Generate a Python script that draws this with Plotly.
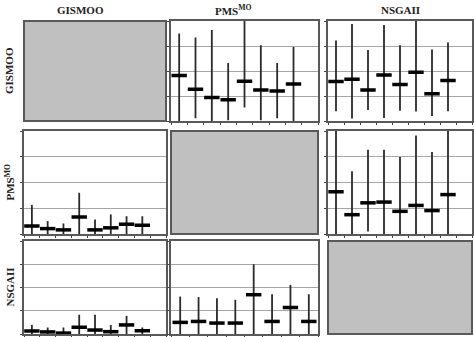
import plotly.graph_objects as go

W, H = 474, 337

algorithms = ["GISMOO", "PMS<sup>MO</sup>", "NSGAII"]
instances = [1, 2, 3, 4, 5, 6, 7, 8]

# row GISMOO, column PMS^MO
r1c2_min = [0.00, 0.11, 0.00, 0.03, 0.54, 0.03, 0.11, 0.00]
r1c2_med = [1.82, 1.27, 0.94, 0.85, 1.59, 1.24, 1.20, 1.48]
r1c2_max = [3.50, 3.34, 3.64, 2.32, 4.00, 3.03, 2.32, 2.96]
# row GISMOO, column NSGAII
r1c3_min = [0.39, 0.10, 0.44, 0.12, 0.41, 0.38, 0.20, 0.39]
r1c3_med = [1.58, 1.67, 1.24, 1.84, 1.46, 1.95, 1.09, 1.62]
r1c3_max = [3.22, 3.88, 2.84, 3.84, 3.03, 4.00, 2.86, 3.14]
# row PMS^MO, column GISMOO
r2c1_min = [0.00, 0.00, 0.00, 0.00, 0.00, 0.00, 0.00, 0.00]
r2c1_med = [0.31, 0.21, 0.16, 0.66, 0.16, 0.24, 0.38, 0.34]
r2c1_max = [1.13, 0.50, 0.41, 1.60, 0.56, 0.76, 0.69, 0.69]
# row PMS^MO, column NSGAII
r2c3_min = [0.00, 0.00, 0.10, 0.00, 0.00, 0.00, 0.00, 0.00]
r2c3_med = [1.64, 0.75, 1.21, 1.24, 0.88, 1.11, 0.91, 1.53]
r2c3_max = [4.00, 2.44, 3.27, 3.27, 2.99, 3.83, 3.18, 4.00]
# row NSGAII, column GISMOO
r3c1_min = [0.00, 0.00, 0.00, 0.00, 0.00, 0.00, 0.00, 0.00]
r3c1_med = [0.13, 0.09, 0.04, 0.29, 0.17, 0.10, 0.39, 0.14]
r3c1_max = [0.39, 0.28, 0.28, 0.83, 0.83, 0.39, 0.78, 0.28]
# row NSGAII, column PMS^MO
r3c2_min = [0.00, 0.00, 0.00, 0.00, 0.00, 0.00, 0.00, 0.00]
r3c2_med = [0.50, 0.54, 0.47, 0.47, 1.69, 0.54, 1.14, 0.54]
r3c2_max = [1.61, 1.59, 1.54, 1.47, 3.00, 1.71, 2.11, 1.71]

panels = {
    (0, 1): (r1c2_min, r1c2_med, r1c2_max, 9),
    (0, 2): (r1c3_min, r1c3_med, r1c3_max, 9),
    (1, 0): (r2c1_min, r2c1_med, r2c1_max, 9),
    (1, 2): (r2c3_min, r2c3_med, r2c3_max, 9),
    (2, 0): (r3c1_min, r3c1_med, r3c1_max, 9),
    (2, 1): (r3c2_min, r3c2_med, r3c2_max, 8),
}

col_px = [(24, 166), (171, 318), (328, 472)]
row_px = [(21, 121), (131, 234), (241, 334)]

fig = go.Figure()
layout = {}
shapes = []
border = "#595959"

n = 0
for r in range(3):
    for c in range(3):
        x0, x1 = col_px[c]
        y0, y1 = row_px[r]
        xdom = [x0 / W, x1 / W]
        ydom = [1 - y1 / H, 1 - y0 / H]
        if r == c:
            shapes.append(dict(type="rect", xref="paper", yref="paper",
                               x0=xdom[0], x1=xdom[1], y0=ydom[0], y1=ydom[1],
                               fillcolor="#c0c0c0",
                               line=dict(color=border, width=2), layer="below"))
            continue
        n += 1
        xa = "xaxis" if n == 1 else f"xaxis{n}"
        ya = "yaxis" if n == 1 else f"yaxis{n}"
        xr = "x" if n == 1 else f"x{n}"
        yr = "y" if n == 1 else f"y{n}"
        mn, md, mx, ncat = panels[(r, c)]
        fig.add_trace(go.Scatter(
            x=instances, y=md, mode="markers", xaxis=xr, yaxis=yr,
            marker=dict(symbol="line-ew-open", size=11, color="black",
                        line=dict(width=3.5, color="black")),
            error_y=dict(type="data", symmetric=False,
                         array=[b - a for a, b in zip(md, mx)],
                         arrayminus=[a - b for a, b in zip(md, mn)],
                         width=0, thickness=1.8, color="#2a2a2a"),
            showlegend=False, hoverinfo="skip"))
        layout[xa] = dict(domain=xdom, anchor=yr, range=[0.5, ncat + 0.5],
                          tickvals=[k + 0.5 for k in range(ncat + 1)],
                          showticklabels=False, ticks="outside", ticklen=2,
                          tickcolor="#404040", showgrid=False, zeroline=False,
                          showline=True, linecolor=border, linewidth=1.5,
                          mirror=True, fixedrange=True)
        layout[ya] = dict(domain=ydom, anchor=xr, range=[0, 4],
                          tickvals=[0, 1, 2, 3, 4], showticklabels=False,
                          ticks="outside", ticklen=2, tickcolor="#404040",
                          showgrid=True, gridcolor="#a6a6a6", gridwidth=1,
                          zeroline=False, showline=True, linecolor=border,
                          linewidth=1.5, mirror=True, fixedrange=True)

annotations = []
head_font = dict(family="Liberation Serif", size=11, color="#222222")
col_centers = [80, 233, 400]
for name, cx in zip(algorithms, col_centers):
    annotations.append(dict(text=f"<b>{name}</b>", x=cx / W, y=1 - 10 / H,
                            xref="paper", yref="paper", showarrow=False,
                            font=head_font, xanchor="center", yanchor="middle"))
for name, (y0, y1) in zip(algorithms, row_px):
    annotations.append(dict(text=f"<b>{name}</b>", x=9 / W, y=1 - (y0 + y1) / 2 / H,
                            xref="paper", yref="paper", showarrow=False,
                            font=head_font, textangle=-90,
                            xanchor="center", yanchor="middle"))

fig.update_layout(width=W, height=H, margin=dict(l=0, r=0, t=0, b=0),
                  paper_bgcolor="white", plot_bgcolor="white",
                  shapes=shapes, annotations=annotations, **layout)
fig.write_html("out.html")
